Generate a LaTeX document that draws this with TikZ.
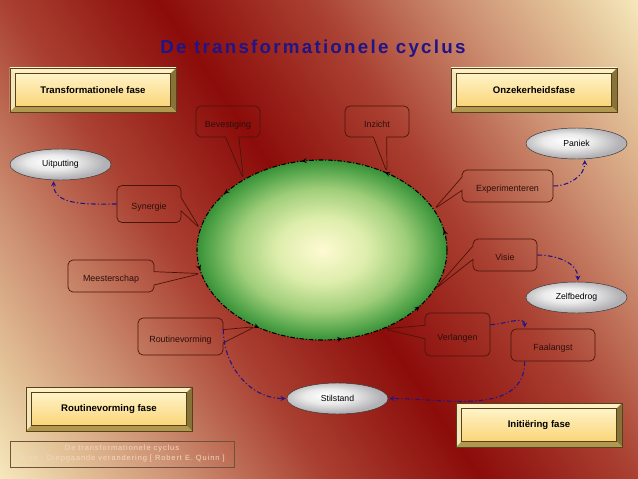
\documentclass[tikz,border=0pt]{standalone}
\usepackage{fontspec}
\setmainfont{Liberation Sans}
\newfontfamily\spacedfont[LetterSpace=12]{Liberation Sans}
\usetikzlibrary{shapes.geometric, shapes.callouts, decorations.markings}

\definecolor{cream}{RGB}{246,233,188}
\definecolor{sand}{RGB}{226,192,150}
\definecolor{clay}{RGB}{205,145,115}
\definecolor{rust}{RGB}{170,65,50}
\definecolor{maroon}{RGB}{140,12,10}
\definecolor{navy}{RGB}{32,20,135}
\definecolor{lensA}{RGB}{254,250,210}
\definecolor{lensB}{RGB}{222,238,172}
\definecolor{lensC}{RGB}{160,206,122}
\definecolor{lensD}{RGB}{92,170,80}
\definecolor{lensE}{RGB}{56,145,55}
\definecolor{pillEdge}{RGB}{178,178,182}
\definecolor{faceTop}{RGB}{255,248,212}
\definecolor{faceBot}{RGB}{250,208,108}
\definecolor{bevelTop}{RGB}{252,240,196}
\definecolor{bevelLeft}{RGB}{244,230,184}
\definecolor{bevelRight}{RGB}{135,115,55}
\definecolor{bevelBot}{RGB}{178,152,78}
\definecolor{phaseline}{RGB}{85,65,28}
\definecolor{noteline}{RGB}{75,20,10}
\definecolor{notetext}{RGB}{45,15,10}
\definecolor{footline}{RGB}{110,82,60}
\definecolor{foottext}{RGB}{244,216,192}

\pgfdeclarehorizontalshading{backdrop}{100bp}{color(0bp)=(cream); color(25bp)=(cream); color(29.4bp)=(sand); color(34.4bp)=(clay); color(41.9bp)=(rust); color(50bp)=(maroon); color(58.1bp)=(rust); color(65.6bp)=(clay); color(70.6bp)=(sand); color(75bp)=(cream); color(100bp)=(cream)}
\pgfdeclareradialshading{lens}{\pgfpoint{0bp}{0bp}}{color(0bp)=(lensA); color(9bp)=(lensB); color(17bp)=(lensC); color(22bp)=(lensD); color(25bp)=(lensE); color(50bp)=(lensE)}
\pgfdeclareradialshading{pill}{\pgfpoint{-6bp}{5bp}}{color(0bp)=(white); color(12bp)=(white!92!black); color(25bp)=(pillEdge); color(50bp)=(pillEdge)}

\begin{document}
\begin{tikzpicture}[x=0.3mm, y=0.3mm,
  phase/.style={draw=phaseline, line width=0.5pt, top color=faceTop, bottom color=faceBot,
    minimum width=49.8mm, minimum height=13.2mm, font=\fontsize{8.2}{10}\selectfont\bfseries,
    path picture={
      \path (path picture bounding box.north west) coordinate (bnw)
            (path picture bounding box.north east) coordinate (bne)
            (path picture bounding box.south east) coordinate (bse)
            (path picture bounding box.south west) coordinate (bsw);
      \fill[bevelTop] (bnw) -- (bne) -- ([shift={(-1.6mm,-1.6mm)}]bne) -- ([shift={(1.6mm,-1.6mm)}]bnw) -- cycle;
      \fill[bevelLeft] (bnw) -- (bsw) -- ([shift={(1.6mm,1.6mm)}]bsw) -- ([shift={(1.6mm,-1.6mm)}]bnw) -- cycle;
      \fill[bevelRight] (bne) -- (bse) -- ([shift={(-1.6mm,1.6mm)}]bse) -- ([shift={(-1.6mm,-1.6mm)}]bne) -- cycle;
      \fill[bevelBot] (bsw) -- (bse) -- ([shift={(-1.6mm,1.6mm)}]bse) -- ([shift={(1.6mm,1.6mm)}]bsw) -- cycle;
      \draw[phaseline, line width=0.4pt] ([shift={(1.6mm,1.6mm)}]bsw) rectangle ([shift={(-1.6mm,-1.6mm)}]bne);
    }},
  note/.style={draw=noteline, line width=0.6pt, rounded corners=1.5mm, text=notetext,
    font=\fontsize{7.6}{9}\selectfont, text height=10pt, text depth=0pt, inner sep=1pt},
  balloon/.style={note, rectangle callout, callout pointer width=4mm},
  pill/.style={ellipse, draw=black!80, line width=0.4pt, shading=pill, minimum width=30.3mm,
    minimum height=9.3mm, inner sep=0pt, font=\fontsize{7.4}{9}\selectfont},
  lensnode/.style={ellipse, minimum width=75mm, minimum height=54mm, inner sep=0pt, shading=lens,
    draw=black, line width=0.9pt, dash pattern=on 4pt off 1.5pt on 1pt off 1.5pt,
    postaction={decorate, decoration={markings, mark=between positions 0.03 and 0.99 step 0.125 with {\arrow{stealth}}}}},
  flow/.style={draw=navy, line width=0.9pt, dash pattern=on 4pt off 2pt on 1pt off 2pt, -stealth, shorten >=1pt}]

% Background
\useasboundingbox (0,0) rectangle (638,478);
\begin{scope}
  \clip (0,0) rectangle (638,478);
  \begin{scope}[transform canvas={rotate around={34:(319,239)}}]
    \shade[shading=backdrop] (-81,-161) rectangle (719,639);
  \end{scope}
\end{scope}

\node[font=\spacedfont\bfseries\fontsize{16}{19}\selectfont, text=navy] (title) at (313,429) {De transformationele cyclus};

% The cycle
\node[lensnode] (cyc) at (322,228) {};

\node[balloon, minimum width=19.2mm, minimum height=9.3mm, callout absolute pointer={(cyc.138)}] (bev) at (228,356.5) {Bevestiging};
\node[balloon, minimum width=19.2mm, minimum height=9.3mm, callout absolute pointer={(cyc.50)}] (inz) at (377,356.5) {Inzicht};
\node[balloon, minimum width=19.2mm, minimum height=11.1mm, callout absolute pointer={(cyc.170)}] (syn) at (149,274) {Synergie};
\node[balloon, minimum width=27.3mm, minimum height=9.6mm, callout absolute pointer={(cyc.20)}] (exp) at (507.5,292) {Experimenteren};
\node[balloon, minimum width=19.2mm, minimum height=9.6mm, callout absolute pointer={(cyc.-19)}] (vis) at (505,223) {Visie};
\node[balloon, minimum width=25.8mm, minimum height=9.6mm, callout absolute pointer={(cyc.191)}] (mee) at (111,202) {Meesterschap};
\node[balloon, minimum width=25.5mm, minimum height=11.1mm, callout absolute pointer={(cyc.-131)}] (rtv) at (180.5,141.5) {Routinevorming};
\node[balloon, minimum width=19.5mm, minimum height=12.9mm, callout absolute pointer={(cyc.-52)}] (ver) at (457.5,143.5) {Verlangen};
\node[note, minimum width=25.2mm, minimum height=9.6mm] (faal) at (553,133) {Faalangst};

% Dead ends
\node[pill] (upt) at (60.5,313.5) {Uitputting};
\node[pill] (pan) at (576.5,334.5) {Paniek};
\node[pill] (zelf) at (576.5,180.5) {Zelfbedrog};
\node[pill] (stil) at (337.5,79.5) {Stilstand};

\draw[flow] (syn.west) to[out=180, in=-90] (upt.246);
\draw[flow] (exp.east) to[out=0, in=-90] (pan.-62);
\draw[flow] (vis.east) to[out=0, in=90] (zelf.85);
\draw[flow] (ver.25) to[out=0, in=90] (faal.150);
\draw[flow] (faal.210) to[out=-90, in=0] (stil.east);
\draw[flow] (rtv.-34) to[out=-90, in=180] (stil.west);

% Phases
\node[phase] (transfase) at (93,388) {Transformationele fase};
\node[phase] (onzfase) at (534,388) {Onzekerheidsfase};
\node[phase] (routfase) at (109,69) {Routinevorming fase};
\node[phase] (initfase) at (539,53) {Initiëring fase};

\node[draw=footline, line width=0.6pt, minimum width=67.2mm, minimum height=7.8mm, inner sep=0pt,
  text=foottext, align=center, font=\spacedfont\fontsize{6.4}{8.5}\selectfont] (bron) at (122,24)
  {De transformationele cyclus\\Bron : Diepgaande verandering [ Robert E. Quinn ]};

\end{tikzpicture}
\end{document}
